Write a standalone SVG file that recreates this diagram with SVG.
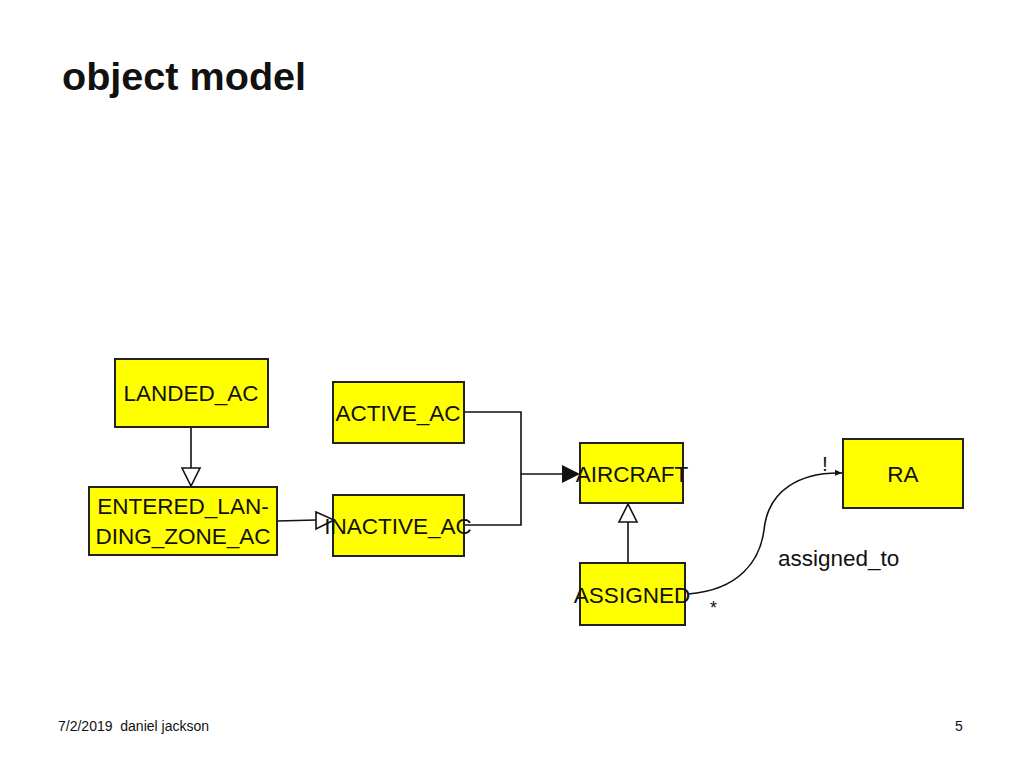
<svg xmlns="http://www.w3.org/2000/svg" width="1024" height="768" viewBox="0 0 1024 768">
<style>
.box{fill:#ffff00;stroke:#222;stroke-width:2}
.lbl{font-family:"Liberation Sans",Arial,sans-serif;font-size:22.5px;fill:#111;text-anchor:middle}
.ln{fill:none;stroke:#111;stroke-width:1.6}
.hol{fill:#fff;stroke:#111;stroke-width:1.6}
.txt{font-family:"Liberation Sans",Arial,sans-serif;fill:#111}
</style>
<defs>
<marker id="sa" markerWidth="8" markerHeight="8" refX="7" refY="4" orient="auto" markerUnits="userSpaceOnUse"><path d="M0,1 L7,4 L0,7 Z" fill="#111"/></marker>
</defs>
<rect width="1024" height="768" fill="#fff"/>
<text x="62" y="90" class="txt" font-size="39.6" font-weight="bold">object model</text>

<g id="connectors">
  <path class="ln" d="M191,427 L191,468"/>
  <path class="hol" d="M182,468 L200,468 L191,486 Z"/>
  <path class="ln" d="M277,521 L316,520"/>
  <path class="hol" d="M316,512 L334,520 L316,529 Z"/>
  <path class="ln" d="M464,412 L521,412 L521,525 L464,525"/>
  <path class="ln" d="M521,474 L562,474"/>
  <path d="M562,465 L580,474 L562,483 Z" fill="#111"/>
  <path class="ln" d="M628,563 L628,522"/>
  <path class="hol" d="M619,522 L637,522 L628,504 Z"/>
  <path class="ln" d="M688,594 C740,590 760,560 764,530 C768,490 800,472 842,473" marker-end="url(#sa)"/>
</g>

<g id="LANDED_AC"><rect class="box" x="115" y="359" width="153" height="68"/><text class="lbl" x="191" y="401">LANDED_AC</text></g>
<g id="ENTERED_LANDING_ZONE_AC"><rect class="box" x="89" y="487" width="188" height="68"/><text class="lbl" x="183" y="514">ENTERED_LAN-</text><text class="lbl" x="183" y="544">DING_ZONE_AC</text></g>
<g id="ACTIVE_AC"><rect class="box" x="333" y="382" width="131" height="61"/><text class="lbl" x="398" y="421">ACTIVE_AC</text></g>
<g id="INACTIVE_AC"><rect class="box" x="333" y="495" width="131" height="61"/><text class="lbl" x="398" y="534">INACTIVE_AC</text></g>
<g id="AIRCRAFT"><rect class="box" x="580" y="443" width="103" height="60"/><text class="lbl" x="632" y="482">AIRCRAFT</text></g>
<g id="ASSIGNED"><rect class="box" x="580" y="563" width="105" height="62"/><text class="lbl" x="632" y="603">ASSIGNED</text></g>
<g id="RA"><rect class="box" x="843" y="439" width="120" height="69"/><text class="lbl" x="903" y="482">RA</text></g>

<text class="txt" x="822" y="471" font-size="21">!</text>
<text class="txt" x="710" y="614" font-size="18">*</text>
<text class="txt" x="778" y="566" font-size="22.5">assigned_to</text>

<text class="txt" x="58" y="731" font-size="14" style="white-space:pre">7/2/2019  daniel jackson</text>
<text class="txt" x="955" y="731" font-size="14">5</text>
</svg>
